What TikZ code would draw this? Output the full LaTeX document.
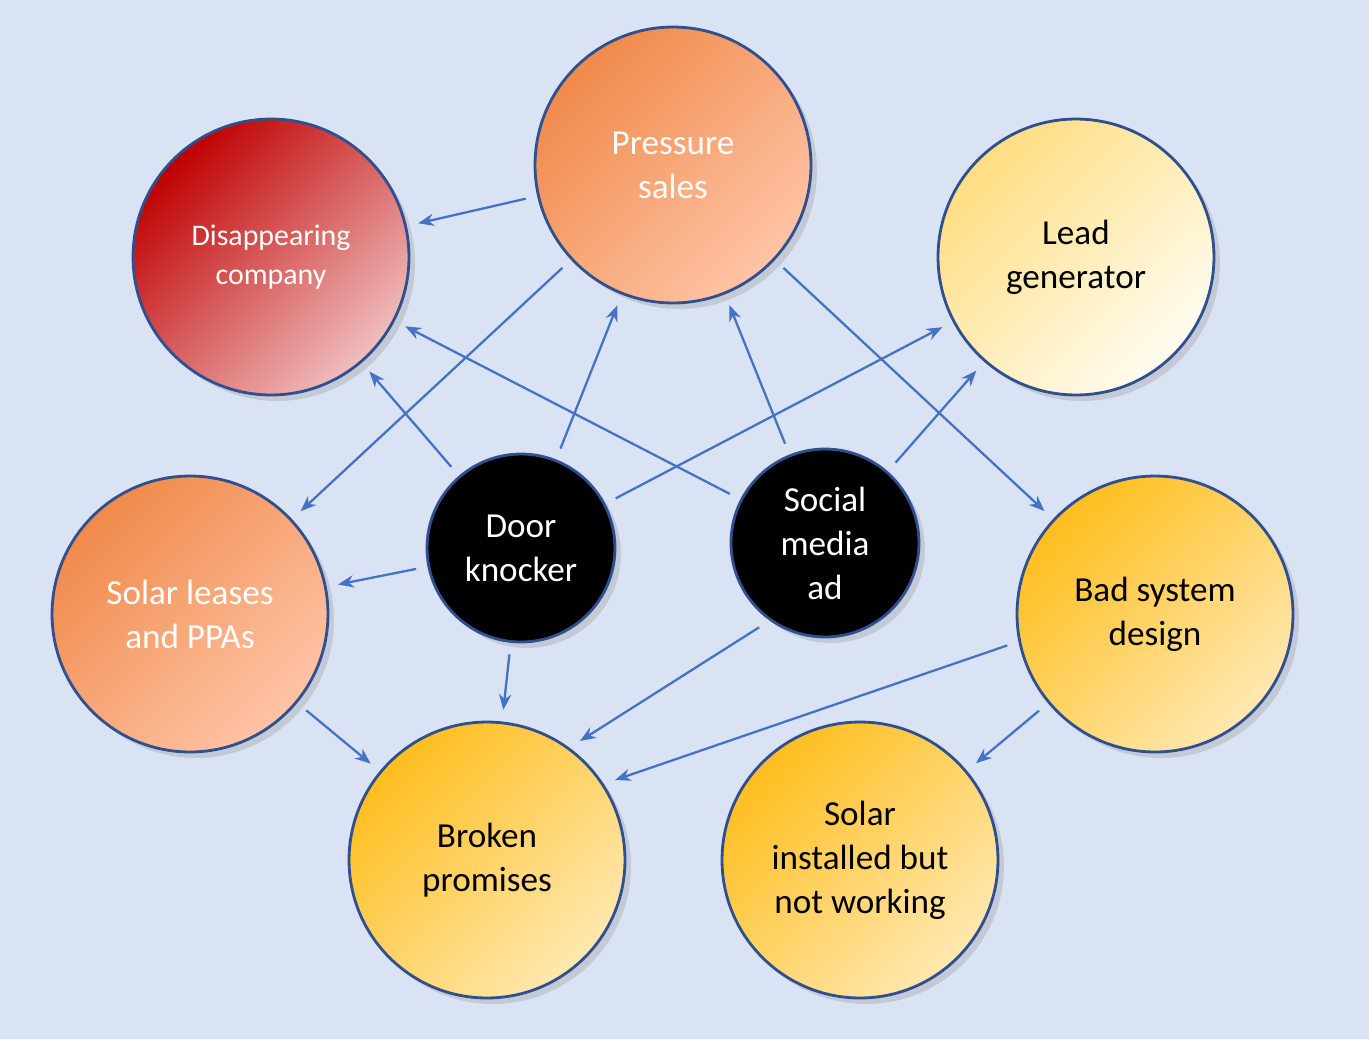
\documentclass[tikz,border=0pt]{standalone}
\usepackage{fontspec}
\setmainfont{Carlito}
\usetikzlibrary{arrows.meta,shadows}
\definecolor{bg}{HTML}{DAE3F3}
\definecolor{edge}{HTML}{2F4F8F}
\definecolor{arr}{HTML}{4472C4}
\begin{document}
\begin{tikzpicture}[x=0.02cm,y=-0.02cm,
 big/.style={circle,draw=edge,line width=1.6pt,minimum size=5.52cm,outer sep=0.26cm,align=center,font=\fontsize{20}{25}\selectfont,drop shadow={shadow xshift=0.12cm,shadow yshift=-0.12cm,opacity=0.25}},
 small/.style={big,minimum size=3.76cm,fill=black,text=white},
 red/.style={left color=red!75!black,right color={rgb,255:red,240;green,190;blue,190},shading angle=45},
 ora/.style={left color={rgb,255:red,240;green,138;blue,74},right color={rgb,255:red,255;green,196;blue,166},shading angle=45},
 yel/.style={left color={rgb,255:red,255;green,190;blue,30},right color={rgb,255:red,255;green,232;blue,176},shading angle=45},
 pal/.style={left color={rgb,255:red,255;green,222;blue,128},right color={rgb,255:red,255;green,252;blue,240},shading angle=45},
 a/.style={draw=arr,line width=1.3pt,-{Stealth[length=9pt,width=7pt]}}]
\fill[bg] (0,0) rectangle (1369,1039);
\useasboundingbox (0,0) rectangle (1369,1039);
\node[big,red,text=white,font=\fontsize{17}{22}\selectfont] (dis) at (271,257) {Disappearing\\company};
\node[big,ora,text=white] (pre) at (673,165) {Pressure\\sales};
\node[big,pal] (lead) at (1076,257) {Lead\\generator};
\node[big,ora,text=white] (sl) at (190,614) {Solar leases\\and PPAs};
\node[small] (door) at (521,548) {Door\\knocker};
\node[small] (soc) at (825,543) {Social\\media\\ad};
\node[big,yel] (bad) at (1155,614) {Bad system\\design};
\node[big,yel] (bro) at (487,860) {Broken\\promises};
\node[big,yel] (ins) at (860,860) {Solar\\installed but\\not working};
\draw[a] (pre) -- (dis);
\draw[a] (pre) -- (sl);
\draw[a] (pre) -- (bad);
\draw[a] (door) -- (dis);
\draw[a] (door) -- (pre);
\draw[a] (door) -- (lead);
\draw[a] (door) -- (sl);
\draw[a] (door) -- (bro);
\draw[a] (soc) -- (dis);
\draw[a] (soc) -- (pre);
\draw[a] (soc) -- (lead);
\draw[a] (soc.232) -- (bro.52);
\draw[a] (sl) -- (bro);
\draw[a] (bad.192) -- (bro.32);
\draw[a] (bad) -- (ins);
\end{tikzpicture}
\end{document}
